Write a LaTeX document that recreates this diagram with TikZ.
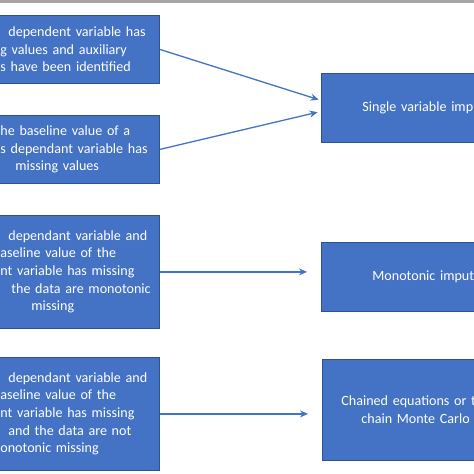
\documentclass[tikz,border=0pt]{standalone}
\usepackage{fontspec}
\setmainfont{Carlito}
\usetikzlibrary{arrows.meta,positioning}
\definecolor{boxblue}{HTML}{4472C4}
\definecolor{boxline}{HTML}{2F528F}
\definecolor{topbar}{HTML}{A5A5A5}
\newcommand{\cutline}[2][0pt]{\hspace*{#1}\mbox{#2}}

\begin{document}
\begin{tikzpicture}[x=1pt, y=1pt,
  cond/.style={draw=boxline, line width=0.8pt, fill=boxblue, text=white, anchor=north west,
    text width=148pt, inner xsep=11pt, inner ysep=0pt, align=left,
    font=\fontsize{14.1}{17.7}\selectfont},
  method/.style={cond, inner xsep=10pt, text width=150pt},
  link/.style={draw=boxblue, line width=1.3pt, -{Stealth[length=8pt,width=7pt]}}]
\useasboundingbox (0,0) rectangle (474,-474);
\clip (0,0) rectangle (474,-474);
\fill[topbar] (0,0) rectangle (474,-2.5);

\node (cond1) [cond, minimum height=68pt] at (-11,-15) {\cutline[8pt]{dependent variable has}\\\cutline{g values and auxiliary}\\\cutline{s have been identified}};
\node (cond2) [cond, minimum height=68pt] at (-11,-115) {\cutline{he baseline value of a}\\\cutline{s dependant variable has}\\\cutline[15pt]{missing values}};

\node (single) [method, minimum height=69pt] at (321,-73) {\cutline[31pt]{Single variable imp}};

\draw[link, shorten >=2.5pt] (cond1.east) -- ([yshift=7.5pt]single.west);
\draw[link, shorten >=3.5pt] (cond2.east) -- ([yshift=-3.5pt]single.west);

% -------------------------------

\node (cond3) [cond, minimum height=113pt] at (-11,-215) {\cutline[8pt]{dependant variable and}\\\cutline{aseline value of the}\\\cutline{nt variable has missing}\\\cutline[11pt]{the data are monotonic}\\\cutline[31pt]{missing}};
\node (mono) [method, minimum height=69pt] at (321,-242) {\cutline[41pt]{Monotonic imput}};

\draw[link, shorten >=14pt] (cond3.east) -- (cond3.east -| mono.west);

% -------------------------------

\node (cond4) [cond, minimum height=113pt] at (-11,-357) {\cutline[8pt]{dependant variable and}\\\cutline{aseline value of the}\\\cutline{nt variable has missing}\\\cutline[8pt]{and the data are not}\\\cutline{onotonic missing}};
\node (chained) [method, minimum height=101pt] at (322,-359) {\cutline[9pt]{Chained equations or t}\\\cutline[29pt]{chain Monte Carlo}};

\draw[link, shorten >=14pt] (cond4.east) -- (cond4.east -| chained.west);
\end{tikzpicture}
\end{document}
